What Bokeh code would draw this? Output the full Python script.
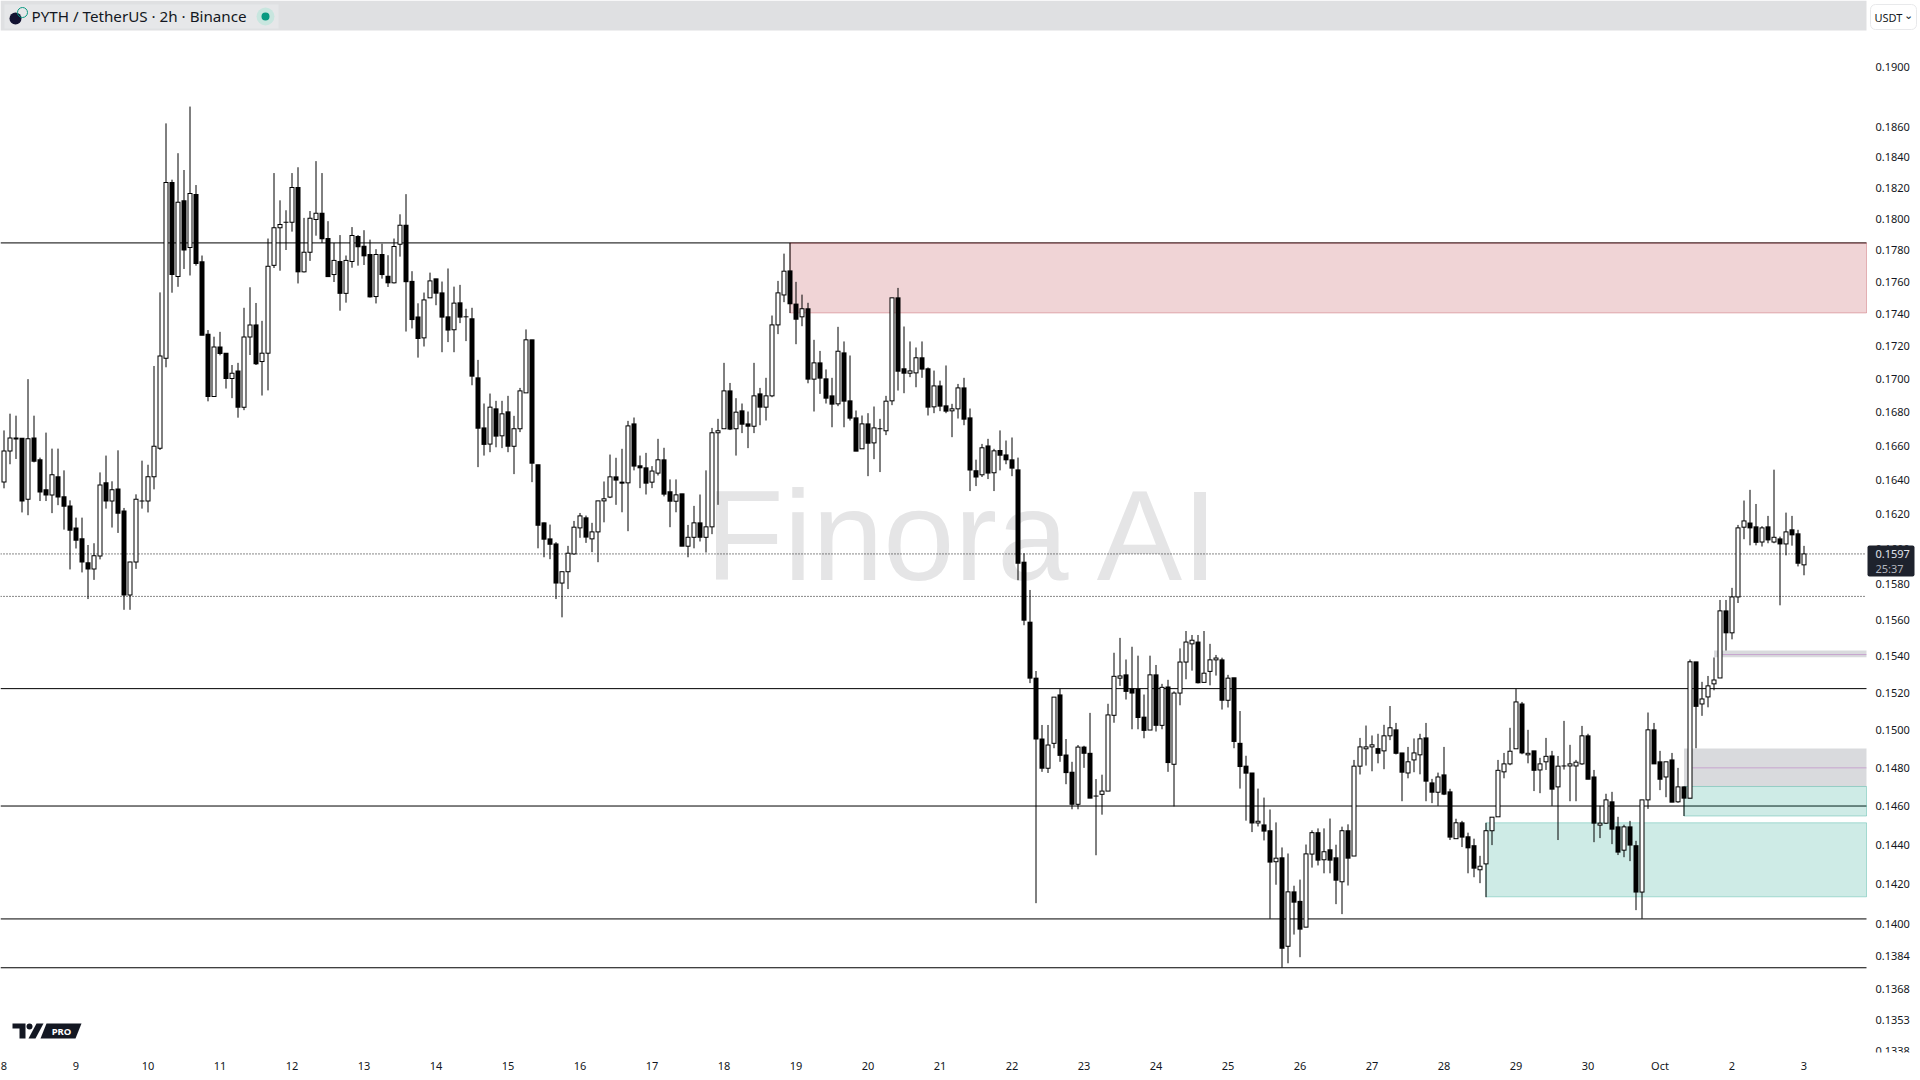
from bokeh.plotting import figure
from bokeh.embed import file_html
from bokeh.resources import INLINE
from bokeh.models import (Range1d, FixedTicker, NumeralTickFormatter, Label,
                          BoxAnnotation, PolyAnnotation, ColumnDataSource)

symbol_title = "PYTH / TetherUS · 2h · Binance"
currency = "USDT"
watermark = "Finora AI"
last_price = "0.1597"
countdown = "25:37"

highs = [
.16692,.16792,.16780,.16647,.17000,.16780,.16531,.16679,.16584,.16584,
.16456,.16281,.16181,.16181,.16024,.16034,.16444,.16543,.16392,.16574,
.16237,.15929,.16316,.16513,.16489,.17080,.17534,.18623,.18253,.18426,
.18316,.18735,.18218,.17766,.17300,.17259,.17289,.17158,.17086,.17099,
.17438,.17566,.17468,.17357,.17874,.18296,.18119,.18055,.18296,.18334,
.18006,.18050,.18374,.18296,.17985,.17846,.17896,.17766,.17947,.17896,
.17927,.17867,.17806,.17841,.17768,.17874,.18029,.18159,.17667,.17466,
.17533,.17658,.17619,.17602,.17684,.17570,.17581,.17432,.17438,.17117,
.16853,.16913,.16869,.16869,.16899,.16779,.16947,.17304,.17240,.16489,
.16153,.16141,.16040,.15872,.16019,.16162,.16208,.16193,.16151,.16278,
.16391,.16549,.16530,.16583,.16749,.16769,.16543,.16559,.16481,.16642,
.16589,.16403,.16403,.16319,.16139,.16249,.16315,.16456,.16707,.16761,
.17099,.16977,.16885,.16853,.16805,.17099,.16947,.17008,.17390,.17606,
.17778,.17846,.17600,.17520,.17469,.17240,.17172,.17059,.17008,.17320,
.17230,.17144,.16811,.16781,.16795,.16835,.16761,.16899,.17500,.17562,
.17322,.17230,.17193,.17230,.17071,.17052,.16991,.17083,.16851,.16971,
.17008,.16823,.16519,.16612,.16642,.16583,.16692,.16632,.16650,.16531,
.15977,.15769,.15320,.15028,.15028,.15178,.15223,.14953,.14832,.14921,
.14917,.15093,.14741,.14764,.15142,.15420,.15502,.15383,.15453,.15404,
.15192,.15404,.15353,.15250,.15272,.15209,.15444,.15540,.15518,.15518,
.15540,.15469,.15408,.15393,.15299,.15283,.15103,.14864,.14773,.14691,
.14644,.14582,.14515,.14386,.14355,.14191,.14222,.14401,.14474,.14484,
.14484,.14535,.14400,.14493,.14505,.14842,.14959,.15025,.14972,.14981,
.15029,.15130,.15039,.14879,.14911,.14956,.14981,.15039,.14742,.14775,
.14911,.14690,.14534,.14523,.14462,.14431,.14343,.14513,.14542,.14842,
.14879,.15013,.15223,.15152,.15002,.14890,.14853,.14959,.14890,.14863,
.15050,.14922,.14842,.15023,.14981,.14789,.14601,.14664,.14674,.14544,
.14503,.14523,.14420,.14632,.15095,.15039,.14890,.14832,.14879,.14800,
.14702,.15383,.15370,.15261,.15293,.15394,.15713,.15713,.15781,.16139,
.16280,.16342,.16260,.16132,.16191,.16460,.16072,.16210,.16191,.16111,.16019]

body_tops = [
.16570,.16647,.16647,.16645,.16643,.16647,.16519,.16342,.16430,.16418,
.16302,.16249,.16122,.16059,.15923,.15963,.16371,.16384,.16342,.16347,
.16219,.15927,.16287,.16277,.16418,.16598,.17141,.18235,.18235,.18106,
.18117,.18164,.18157,.17727,.17274,.17196,.17196,.17158,.17036,.17049,
.17257,.17332,.17332,.17158,.17698,.17943,.17963,.17978,.18202,.18202,
.17786,.18004,.18035,.18035,.17874,.17735,.17728,.17735,.17894,.17887,
.17825,.17773,.17773,.17773,.17635,.17823,.17958,.17958,.17603,.17381,
.17487,.17606,.17619,.17531,.17382,.17467,.17469,.17382,.17370,.17008,
.16707,.16831,.16821,.16791,.16803,.16702,.16929,.17240,.17240,.16489,
.16151,.16059,.16030,.15872,.15977,.16126,.16191,.16180,.16099,.16278,
.16290,.16418,.16418,.16387,.16719,.16731,.16483,.16471,.16452,.16518,
.16518,.16331,.16313,.16319,.16068,.16151,.16151,.16128,.16678,.16690,
.16929,.16929,.16801,.16809,.16731,.16899,.16911,.16899,.17332,.17531,
.17667,.17669,.17461,.17432,.17432,.17099,.17099,.17002,.16899,.17170,
.17160,.16869,.16767,.16731,.16731,.16707,.16702,.16867,.17500,.17500,
.17063,.17050,.17130,.17130,.17063,.16959,.16959,.16839,.16821,.16947,
.16947,.16767,.16454,.16589,.16600,.16571,.16573,.16547,.16518,.16459,
.15926,.15589,.15281,.14953,.14921,.15178,.15190,.14868,.14777,.14910,
.14910,.14877,.14652,.14678,.15082,.15291,.15293,.15299,.15223,.15221,
.15070,.15299,.15299,.15231,.15233,.15200,.15369,.15479,.15489,.15479,
.15308,.15381,.15391,.15381,.15281,.15283,.14930,.14809,.14773,.14521,
.14502,.14472,.14331,.14333,.14160,.14160,.14112,.14353,.14462,.14462,
.14364,.14374,.14333,.14472,.14472,.14809,.14911,.14911,.14922,.14902,
.14970,.15013,.15002,.14879,.14832,.14879,.14954,.14959,.14721,.14752,
.14763,.14674,.14513,.14513,.14441,.14395,.14290,.14472,.14542,.14787,
.14821,.14888,.15152,.15141,.14877,.14890,.14821,.14861,.14863,.14809,
.14810,.14821,.14830,.14970,.14970,.14752,.14511,.14632,.14622,.14492,
.14492,.14492,.14395,.14632,.15002,.15002,.14832,.14832,.14842,.14700,
.14700,.15370,.15370,.15168,.15239,.15271,.15652,.15652,.15730,.16122,
.16162,.16150,.16128,.16122,.16128,.16068,.16059,.16099,.16111,.16088,.15973]

body_bottoms = [
.16388,.16570,.16641,.16277,.16287,.16509,.16329,.16312,.16312,.16300,
.16247,.16108,.16051,.15927,.15888,.15888,.15961,.16277,.16277,.16207,
.15741,.15741,.15927,.16277,.16277,.16418,.16586,.17127,.17646,.17633,
.17801,.17817,.17715,.17268,.16895,.16895,.17156,.17004,.17004,.16831,
.16831,.17257,.17093,.17107,.17158,.17704,.17943,.17978,.17978,.17663,
.17663,.17786,.17996,.17872,.17633,.17646,.17528,.17528,.17728,.17821,
.17764,.17506,.17508,.17646,.17594,.17594,.17837,.17601,.17365,.17248,
.17252,.17500,.17529,.17380,.17300,.17302,.17380,.17382,.17018,.16705,
.16609,.16611,.16658,.16660,.16598,.16598,.16702,.16917,.16498,.16137,
.16057,.16028,.15808,.15808,.15872,.15973,.16122,.16069,.16059,.16099,
.16278,.16300,.16399,.16381,.16383,.16481,.16471,.16381,.16387,.16440,
.16317,.16276,.16276,.16017,.16017,.16068,.16068,.16068,.16128,.16678,
.16702,.16700,.16702,.16729,.16717,.16717,.16831,.16831,.16899,.17332,
.17518,.17463,.17367,.17382,.17000,.17000,.17006,.16885,.16849,.16851,
.16867,.16765,.16569,.16583,.16616,.16618,.16702,.16690,.16869,.17048,
.17036,.17036,.17038,.17061,.16831,.16833,.16837,.16807,.16809,.16821,
.16759,.16458,.16417,.16430,.16440,.16442,.16545,.16518,.16469,.15920,
.15600,.15281,.14953,.14798,.14798,.14930,.14866,.14775,.14609,.14609,
.14877,.14641,.14652,.14661,.14678,.15080,.15281,.15209,.15200,.15068,
.14999,.15001,.15026,.15026,.14828,.14819,.15200,.15369,.15469,.15256,
.15258,.15318,.15381,.15161,.15161,.14940,.14807,.14772,.14512,.14512,
.14470,.14311,.14313,.13878,.13888,.14108,.13973,.13983,.14352,.14321,
.14323,.14321,.14219,.14211,.14331,.14342,.14809,.14901,.14911,.14877,
.14890,.14970,.14877,.14777,.14773,.14842,.14869,.14730,.14672,.14672,
.14662,.14439,.14431,.14439,.14384,.14280,.14272,.14302,.14472,.14544,
.14779,.14821,.14901,.14879,.14869,.14787,.14789,.14832,.14688,.14700,
.14810,.14810,.14810,.14821,.14740,.14511,.14501,.14511,.14480,.14362,
.14372,.14398,.14159,.14159,.14632,.14821,.14740,.14752,.14620,.14622,
.14641,.14641,.15128,.15141,.15179,.15250,.15282,.15530,.15530,.15730,
.16126,.16122,.16039,.16041,.16053,.16041,.16030,.16030,.16082,.15920,.15911]

lows = [
.16351,.16492,.16523,.16211,.16195,.16503,.16277,.16277,.16207,.16253,
.16112,.15885,.16004,.15868,.15718,.15826,.15942,.16233,.16124,.16093,
.15658,.15658,.15888,.16233,.16211,.16345,.16576,.17072,.17532,.17569,
.17681,.17640,.17702,.17268,.16866,.16895,.17145,.16943,.16885,.16768,
.16813,.17147,.17086,.16901,.16932,.17687,.17670,.17801,.17918,.17590,
.17659,.17732,.17892,.17846,.17631,.17599,.17420,.17470,.17689,.17702,
.17706,.17502,.17465,.17620,.17568,.17590,.17759,.17291,.17310,.17131,
.17199,.17500,.17454,.17164,.17226,.17164,.17343,.17232,.16963,.16475,
.16543,.16563,.16592,.16587,.16563,.16434,.16682,.16917,.16387,.16005,
.15954,.15943,.15718,.15616,.15774,.15969,.16065,.16036,.15983,.15926,
.16154,.16294,.16255,.16212,.16103,.16456,.16352,.16315,.16352,.16426,
.16304,.16126,.16212,.16017,.15954,.16005,.16044,.15981,.16086,.16255,
.16702,.16694,.16543,.16676,.16587,.16676,.16723,.16751,.16891,.17275,
.17473,.17405,.17213,.17324,.16975,.16805,.16911,.16853,.16711,.16837,
.16711,.16751,.16569,.16583,.16422,.16522,.16446,.16664,.16843,.16931,
.16915,.17012,.16951,.17008,.16781,.16795,.16807,.16795,.16652,.16763,
.16723,.16335,.16364,.16417,.16405,.16335,.16456,.16492,.16422,.15824,
.15572,.15254,.14103,.14779,.14773,.14904,.14832,.14714,.14583,.14583,
.14800,.14641,.14346,.14555,.14678,.15040,.15239,.15165,.15005,.15005,
.14957,.15001,.14993,.15005,.14779,.14598,.15134,.15275,.15322,.15252,
.15258,.15242,.15295,.15111,.15122,.14904,.14691,.14524,.14465,.14494,
.14422,.14025,.14196,.13783,.13804,.13946,.13834,.13983,.14283,.14294,
.14254,.14254,.14098,.14048,.14192,.14342,.14765,.14812,.14782,.14824,
.14793,.14947,.14871,.14625,.14745,.14777,.14766,.14625,.14615,.14601,
.14657,.14424,.14431,.14388,.14254,.14234,.14204,.14133,.14398,.14544,
.14745,.14814,.14901,.14872,.14824,.14678,.14667,.14789,.14601,.14424,
.14791,.14625,.14625,.14816,.14740,.14413,.14434,.14508,.14403,.14347,
.14336,.14316,.14068,.14025,.14585,.14821,.14683,.14646,.14620,.14617,
.14548,.14641,.14904,.15077,.15123,.15215,.15282,.15432,.15494,.15696,
.16057,.16022,.16022,.16015,.16034,.16034,.15683,.15965,.16020,.15902,.15852]

candle_up = ("1100100010" "0000011010" "0111111101" "0100010010" "1101111110"
             "1110010110" "0010011000" "1100010100" "0101011100" "0001111011"
             "1100100011" "0010110111" "1010010111" "1001010001" "0001011110"
             "0110010011" "0001010000" "0000110001" "0011111000" "0101011110"
             "1110100001" "0010100110" "1001011110" "1100111001" "0010001111"
             "1110101101" "1111001100" "1001100101" "0101111011" "10010101001")

price_ticks = [0.1900,0.1860,0.1840,0.1820,0.1800,0.1780,0.1760,0.1740,0.1720,0.1700,
               0.1680,0.1660,0.1640,0.1620,0.1600,0.1580,0.1560,0.1540,0.1520,0.1500,
               0.1480,0.1460,0.1440,0.1420,0.1400,0.1384,0.1368,0.1353,0.1338]
day_ticks = [12*k for k in range(0, 26)]
day_labels = ["8","9","10","11","12","13","14","15","16","17","18","19","20","21","22",
              "23","24","25","26","27","28","29","30","Oct","2","3"]

solid_levels = [0.17846, 0.15224, 0.14600, 0.14024, 0.13782]
dotted_levels = [0.15973, 0.15733]

# zones: start bar, top price, bottom price
zone_red = (131, 0.17846, 0.17406)
zones_teal = [(280, 0.14702, 0.14548), (247, 0.14513, 0.14135)]
zones_grey = [(280, 0.14903, 0.14702), (285, 0.15433, 0.15396)]
mid_lines = [(281.4, 0.14800), (286.4, 0.15410)]

W, H = 1920, 1080
X0, X_PANE, X1 = -7/12, 310 + 5/12, 319 + 5/12
Y0, Y1 = 0.13239, 0.19457

p = figure(width=W, height=H, output_backend="svg", toolbar_location=None,
           x_range=Range1d(X0, X1), y_range=Range1d(Y0, Y1), y_axis_type="log",
           y_axis_location="right", min_border_left=0, min_border_top=0,
           min_border_right=0, min_border_bottom=0)
p.outline_line_color = None
p.grid.visible = False
p.background_fill_color = "#ffffff"
p.border_fill_color = "#ffffff"

AXIS_FONT = "Noto Sans"
p.yaxis.ticker = FixedTicker(ticks=price_ticks)
p.yaxis.formatter = NumeralTickFormatter(format="0.0000")
p.xaxis.ticker = FixedTicker(ticks=day_ticks)
p.xaxis.major_label_overrides = dict(zip(day_ticks, day_labels))
for ax in (p.xaxis[0], p.yaxis[0]):
    ax.axis_line_color = None
    ax.major_tick_line_color = None
    ax.minor_tick_line_color = None
    ax.major_tick_out = 0
    ax.major_tick_in = 0
    ax.minor_tick_out = 0
    ax.major_label_text_color = "#131722"
    ax.major_label_text_font = AXIS_FONT
    ax.major_label_text_font_size = "11px"
# the scales' labels sit on the page area, over the blank outer strip of the frame
p.yaxis.major_label_standoff = -45
p.xaxis.major_label_standoff = -23


def box(left, top, right, bottom, color=None, line=None, radius=0, level="overlay", alpha=1.0):
    b = BoxAnnotation(left=left, right=right, top=top, bottom=bottom,
                      left_units="canvas", right_units="canvas", top_units="canvas", bottom_units="canvas",
                      fill_color=color, fill_alpha=alpha if color else 0, line_color=line, line_alpha=1 if line else 0,
                      border_radius=radius, level=level, editable=False)
    p.add_layout(b)


def label(x, y, text, size, color="#131722", font=AXIS_FONT, align="left", base="middle", level="overlay", style="normal"):
    p.add_layout(Label(x=x, y=y, x_units="canvas", y_units="canvas", text=text, text_font=font,
                       text_font_size=size, text_color=color, text_align=align, text_baseline=base,
                       level=level, text_font_style=style))


def poly(xs, ys, color):
    p.add_layout(PolyAnnotation(xs=xs, ys=ys, xs_units="canvas", ys_units="canvas",
                                fill_color=color, fill_alpha=1, line_color=None, level="overlay"))


# watermark behind the candles
label(705, 535, watermark, "128px", color="#e5e5e6", font="Liberation Sans", base="alphabetic", level="underlay")

# horizontal levels
p.segment(x0=[X0]*len(solid_levels), x1=[X_PANE]*len(solid_levels), y0=solid_levels, y1=solid_levels,
          line_color="#000000", line_width=1)
p.segment(x0=[X0]*len(dotted_levels), x1=[X_PANE]*len(dotted_levels), y0=dotted_levels, y1=dotted_levels,
          line_color="#111111", line_width=1, line_dash="1 2")

# zones
p.quad(left=[zone_red[0]], right=[X_PANE], top=[zone_red[1]], bottom=[zone_red[2]], fill_color="#b22833", fill_alpha=0.2,
       line_color="#b22833", line_alpha=0.3)
p.quad(left=[z[0] for z in zones_grey], right=[X_PANE]*2, top=[z[1] for z in zones_grey], bottom=[z[2] for z in zones_grey],
       fill_color="#787b86", fill_alpha=0.28, line_color=None)
p.quad(left=[z[0] for z in zones_teal], right=[X_PANE]*2, top=[z[1] for z in zones_teal], bottom=[z[2] for z in zones_teal],
       fill_color="#089981", fill_alpha=0.2, line_color="#089981", line_alpha=0.3)
p.segment(x0=[m[0] for m in mid_lines], x1=[X_PANE]*2, y0=[m[1] for m in mid_lines], y1=[m[1] for m in mid_lines],
          line_color="#9c27b0", line_alpha=0.3, line_width=1)

# candles: a black body 5 px wide; rising candles get a white core inside a 1 px rim
n = len(highs)
one_px = (Y1 / Y0) ** (1 / H)
half_px = one_px ** 0.5
opens = [body_bottoms[i] if candle_up[i] == "1" else body_tops[i] for i in range(n)]
closes = [body_tops[i] if candle_up[i] == "1" else body_bottoms[i] for i in range(n)]
src = ColumnDataSource(dict(x=list(range(n)), open=opens, close=closes, high=highs, low=lows,
                            top=[t * half_px for t in body_tops], bottom=[b / half_px for b in body_bottoms]))
p.segment(x0="x", x1="x", y0="low", y1="high", source=src, line_color="#000000", line_width=1)
p.vbar(x="x", top="top", bottom="bottom", width=5/6, source=src, fill_color="#000000", line_color=None)
core = [i for i in range(n) if candle_up[i] == "1" and body_tops[i] / body_bottoms[i] > one_px]
p.vbar(x=core, top=[body_tops[i] / half_px for i in core], bottom=[body_bottoms[i] * half_px for i in core],
       width=3/6, fill_color="#ffffff", line_color=None)

# header
box(0, 0, 1866, 30, color="#dfe0e2")
box(4, 4, 278, 28, color="#e6e7e9")
box(9, 12, 21, 24, color="#131332", radius=6)
box(17, 7, 27, 17, line="#089981", radius=5)
box(256, 7, 274, 25, color="#c8e6df", radius=9)
box(261, 12, 269, 20, color="#089981", radius=4)
label(31, 15.5, symbol_title, "15.2px")

# currency button
box(1870, 4, 1916, 29, color="#ffffff", line="#e8e9eb", radius=5)
label(1874, 16.5, currency, "11px")
label(1908, 15, "⌄", "11px", font="DejaVu Sans", align="center")

# last price tag
box(1867, 545, 1914, 576, color="#1e222d", radius=2)
label(1875, 553, last_price, "11px", color="#e0e3eb")
label(1875, 568, countdown, "11px", color="#b2b5be")

# cut-off lowest scale label
box(1867, 1052, 1914, 1063, color="#ffffff")

# TradingView mark
poly([12, 25, 25, 19, 19, 12], [1023, 1023, 1038, 1038, 1028, 1028], "#131722")
box(26, 1023, 32, 1029, color="#131722", radius=3)
poly([36, 43, 35, 28], [1023, 1023, 1038, 1038], "#131722")
poly([46, 81, 75, 40], [1023, 1023, 1038, 1038], "#131722")
label(61, 1031, "PRO", "9.5px", color="#ffffff", style="bold", align="center")

open("out.html", "w").write(file_html(p, INLINE))
